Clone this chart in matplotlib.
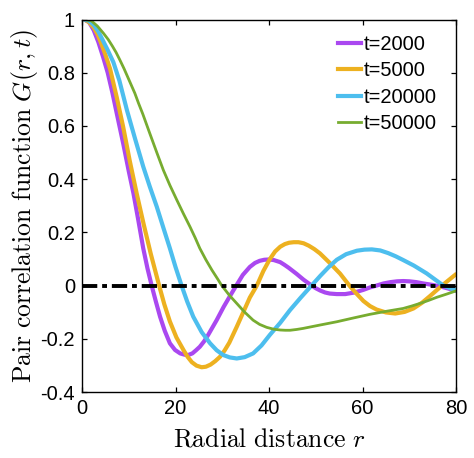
import matplotlib
matplotlib.use("Agg")
import matplotlib.pyplot as plt

plt.rcParams['font.family'] = ['Liberation Sans', 'DejaVu Sans']
plt.rcParams['mathtext.fontset'] = 'cm'
plt.rcParams['lines.scale_dashes'] = False

# ---- data ----
r_2000 = [0.5, 1.5, 2.5, 3.5, 4.5, 5.5, 6.5, 7.4, 8.8, 10.0, 11.0, 12.0, 13.1, 14.0, 14.9,
          15.8, 16.7, 17.7, 18.8, 19.9, 21.0, 22.0, 22.7, 23.6, 24.4, 25.2, 26.1, 27.0, 28.8,
          30.3, 31.7, 33.0, 34.4, 35.9, 37.0, 38.0, 39.0, 39.9, 41.0, 42.4, 43.3, 44.2, 45.9,
          47.4, 48.9, 50.0, 51.0, 52.0, 53.0, 54.5, 56.3, 58.3, 60.2, 61.6, 63.0, 64.5, 66.0,
          67.4, 68.7, 70.0, 71.5, 73.0, 74.8, 76.6, 78.3, 80.0]
g_2000 = [1.0, 0.99, 0.96, 0.915, 0.86, 0.8, 0.725, 0.65, 0.535, 0.43, 0.347, 0.25, 0.14,
          0.065, 0.0, -0.06, -0.117, -0.17, -0.217, -0.242, -0.255, -0.26, -0.261, -0.255,
          -0.243, -0.23, -0.21, -0.185, -0.13, -0.08, -0.038, 0.0, 0.04, 0.07, 0.085, 0.093,
          0.097, 0.098, 0.096, 0.088, 0.078, 0.067, 0.044, 0.022, 0.003, -0.01, -0.019, -0.026,
          -0.03, -0.032, -0.032, -0.026, -0.016, -0.007, 0.0, 0.008, 0.013, 0.016, 0.017, 0.016,
          0.013, 0.008, 0.003, -0.003, -0.011, -0.02]

r_5000 = [0.5, 1.5, 2.5, 3.3, 4.0, 5.0, 6.0, 7.4, 8.8, 10.2, 11.7, 13.2, 14.7, 15.6, 16.5,
          17.6, 18.8, 20.2, 21.7, 22.6, 23.5, 24.5, 25.6, 26.5, 27.5, 28.5, 29.5, 30.5, 31.5,
          33.1, 34.5, 35.9, 37.4, 38.8, 40.2, 41.3, 42.4, 43.4, 44.3, 45.3, 46.3, 47.4, 48.5,
          49.7, 50.9, 53.0, 55.2, 57.2, 58.7, 60.2, 61.6, 63.0, 65.0, 67.0, 69.0, 70.9, 72.7,
          74.4, 75.7, 77.0, 78.4, 79.8]
g_5000 = [1.0, 0.99, 0.97, 0.945, 0.915, 0.868, 0.815, 0.71, 0.597, 0.47, 0.346, 0.23, 0.12,
          0.06, 0.0, -0.07, -0.135, -0.195, -0.242, -0.268, -0.288, -0.301, -0.307, -0.305,
          -0.297, -0.284, -0.268, -0.244, -0.215, -0.155, -0.1, -0.045, 0.0, 0.055, 0.1, 0.128,
          0.146, 0.156, 0.161, 0.163, 0.163, 0.159, 0.15, 0.137, 0.121, 0.085, 0.045, 0.0,
          -0.03, -0.058, -0.077, -0.09, -0.101, -0.105, -0.099, -0.086, -0.065, -0.04, -0.02,
          0.0, 0.02, 0.04]

r_20000 = [0.5, 1.5, 2.5, 3.5, 4.5, 5.5, 6.7, 8.0, 9.6, 11.3, 13.1, 14.5, 16.0, 17.5, 18.8,
           20.0, 21.3, 22.5, 23.8, 25.6, 27.4, 28.8, 30.2, 31.6, 33.1, 34.8, 36.6, 38.4, 40.2,
           42.4, 44.5, 46.8, 49.1, 51.0, 52.8, 54.5, 56.5, 58.8, 60.4, 62.0, 63.8, 65.5, 67.1,
           68.7, 71.0, 73.7, 75.5, 77.3, 79.8]
g_20000 = [1.0, 0.995, 0.98, 0.955, 0.92, 0.885, 0.84, 0.77, 0.66, 0.555, 0.447, 0.372, 0.296,
           0.212, 0.14, 0.07, 0.0, -0.06, -0.117, -0.175, -0.217, -0.243, -0.261, -0.27, -0.274,
           -0.269, -0.255, -0.225, -0.185, -0.14, -0.092, -0.045, 0.0, 0.037, 0.07, 0.097,
           0.118, 0.131, 0.135, 0.136, 0.132, 0.122, 0.11, 0.096, 0.075, 0.046, 0.023, 0.0,
           -0.017]

r_50000 = [0.5, 2.0, 3.3, 4.6, 5.6, 6.5, 7.3, 8.1, 9.0, 10.0, 11.3, 12.1, 13.0, 14.5, 16.0,
           17.4, 18.8, 20.3, 21.7, 23.1, 24.2, 25.2, 26.5, 27.8, 28.9, 29.9, 31.5, 33.1, 34.8,
           36.6, 38.0, 39.5, 41.0, 42.4, 43.5, 44.5, 45.9, 47.3, 49.0, 51.0, 54.5, 58.0, 61.6,
           65.0, 68.7, 70.5, 72.3, 74.1, 75.9, 78.0, 80.0]
g_50000 = [1.0, 0.995, 0.975, 0.948, 0.925, 0.9, 0.876, 0.848, 0.815, 0.775, 0.723, 0.685,
           0.645, 0.572, 0.5, 0.434, 0.377, 0.321, 0.27, 0.221, 0.18, 0.14, 0.097, 0.058, 0.028,
           0.0, -0.036, -0.067, -0.1, -0.13, -0.146, -0.157, -0.164, -0.167, -0.168, -0.168,
           -0.165, -0.161, -0.155, -0.148, -0.136, -0.122, -0.108, -0.097, -0.086, -0.077,
           -0.067, -0.056, -0.044, -0.032, -0.02]

labels = ['t=2000', 't=5000', 't=20000', 't=50000']
colors = ['#AA48F0', '#EDB120', '#4DBEEE', '#77AC30']

xticks = [0, 20, 40, 60, 80]
yticks = [-0.4, -0.2, 0, 0.2, 0.4, 0.6, 0.8, 1]
yticklabels = ['-0.4', '-0.2', '0', '0.2', '0.4', '0.6', '0.8', '1']

# ---- figure ----
fig = plt.figure(figsize=(4.74, 4.58), dpi=100)
ax = fig.add_axes([82/474, 1 - 392/458, (456-82)/474, (392-19.5)/458])

series = [(r_2000, g_2000), (r_5000, g_5000), (r_20000, g_20000), (r_50000, g_50000)]
lws = [3.0, 3.0, 3.0, 2.0]
for (r, g), lab, c, lw in zip(series, labels, colors, lws):
    ax.plot(r, g, color=c, lw=lw, label=lab, solid_joinstyle='round')

zl = ax.axhline(0, color='black', lw=2.8)
zl.set_dashes((11, 3.5, 3.5, 3.5))

ax.set_xlim(0, 80)
ax.set_ylim(-0.4, 1)
ax.set_xticks(xticks)
ax.set_xticklabels([str(x) for x in xticks])
ax.set_yticks(yticks)
ax.set_yticklabels(yticklabels)
ax.tick_params(direction='in', top=True, right=True, length=3.5, width=0.9,
               labelsize=14.5, pad=5)
for s in ax.spines.values():
    s.set_linewidth(1.0)

ax.set_xlabel(r'$\mathrm{Radial\ distance}\ r$', fontsize=18.5, labelpad=7)
ax.set_ylabel(r'$\mathrm{Pair\ correlation\ function}\ G(r,t)$', fontsize=18.5, labelpad=0)

leg = ax.legend(loc='upper right', frameon=False, fontsize=14.5, handlelength=1.15,
                handletextpad=0.15, labelspacing=0.36, borderaxespad=0.3,
                bbox_to_anchor=(0.987, 0.996))

fig.savefig('out.png', dpi=100)
